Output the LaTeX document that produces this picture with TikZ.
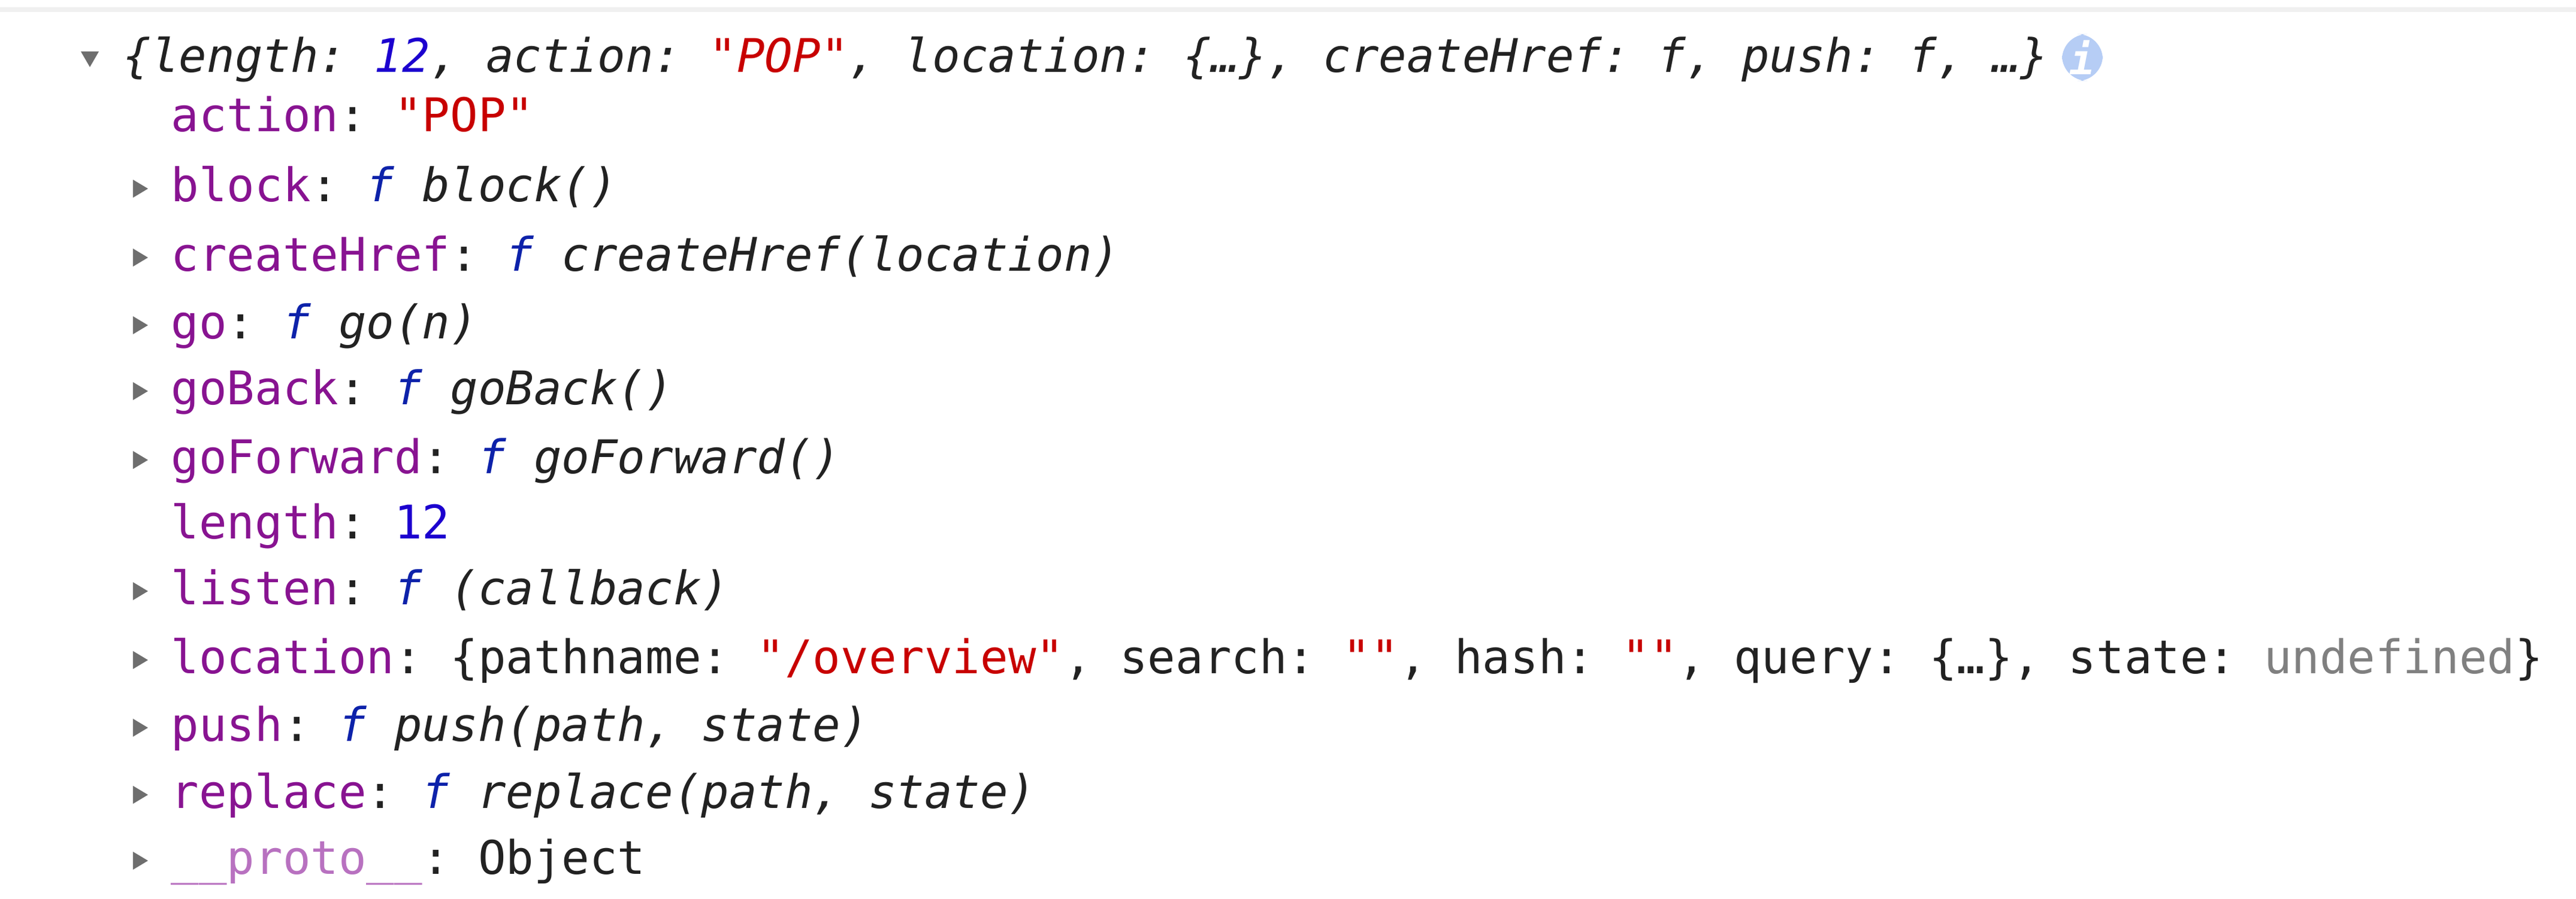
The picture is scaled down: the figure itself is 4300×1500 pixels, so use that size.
\documentclass[tikz,border=0pt]{standalone}
\usepackage{fontspec}
\setmonofont{DejaVu Sans Mono}
\definecolor{keyc}{HTML}{881391}
\definecolor{protoc}{HTML}{B871C0}
\definecolor{strc}{HTML}{C80000}
\definecolor{numc}{HTML}{1C00CF}
\definecolor{fc}{HTML}{0D22AA}
\definecolor{txt}{HTML}{222222}
\definecolor{undc}{HTML}{808080}
\definecolor{tri}{HTML}{6E6E6E}
\definecolor{infoc}{HTML}{B6CDF5}
\tikzset{
  row/.style={anchor=base west,inner sep=0,font=\fontsize{22}{26}\selectfont\ttfamily,text=txt},
}
\newcommand{\K}[1]{\textcolor{keyc}{#1}}
\newcommand{\Sv}[1]{\textcolor{strc}{#1}}
\newcommand{\Nv}[1]{\textcolor{numc}{#1}}
\newcommand{\Fv}{\textcolor{fc}{\itshape f}}
\begin{document}
\begin{tikzpicture}[x=0.01cm,y=-0.01cm]
\useasboundingbox (0,0) rectangle (4300,1500);
\fill[white] (0,0) rectangle (4300,1500);
\fill[black!6] (0,12) rectangle (4300,20);
% expanded triangle
\fill[tri] (135,86) -- (165,86) -- (150,112) -- cycle;
\node[row] (r0) at (205,121) {\itshape\{length: \Nv{12}, action: \Sv{"POP"}, location: \{…\}, createHref: \textcolor{txt}{f}, push: f, …\}};
\node[fill=infoc,rounded corners=12pt,minimum width=0.68cm,minimum height=0.78cm,inner sep=0,text=white,font=\fontsize{20}{20}\selectfont\ttfamily\bfseries\itshape] (info) at (3476,96) {i};
% rows
\def\rowY#1{#1}
\node[row] (r1) at (285,219) {\K{action}: \Sv{"POP"}};
\node[row] (r2) at (285,337) {\K{block}: \Fv{} \itshape block()};
\node[row] (r3) at (285,452) {\K{createHref}: \Fv{} \itshape createHref(location)};
\node[row] (r4) at (285,565) {\K{go}: \Fv{} \itshape go(n)};
\node[row] (r5) at (285,675) {\K{goBack}: \Fv{} \itshape goBack()};
\node[row] (r6) at (285,790) {\K{goForward}: \Fv{} \itshape goForward()};
\node[row] (r7) at (285,899) {\K{length}: \Nv{12}};
\node[row] (r8) at (285,1009) {\K{listen}: \Fv{} \itshape (callback)};
\node[row] (r9) at (285,1124) {\K{location}: \{pathname: \Sv{"/overview"}, search: \Sv{""}, hash: \Sv{""}, query: \{…\}, state: \textcolor{undc}{undefined}\}};
\node[row] (r10) at (285,1237) {\K{push}: \Fv{} \itshape push(path, state)};
\node[row] (r11) at (285,1349) {\K{replace}: \Fv{} \itshape replace(path, state)};
\node[row] (r12) at (285,1459) {\textcolor{protoc}{\_\_proto\_\_}: Object};
% collapsed triangles
\foreach \y in {315,430,543,653,768,987,1102,1215,1327,1437}{
  \fill[tri] (222,\y-15) -- (222,\y+15) -- (247,\y) -- cycle;
}
\end{tikzpicture}
\end{document}
